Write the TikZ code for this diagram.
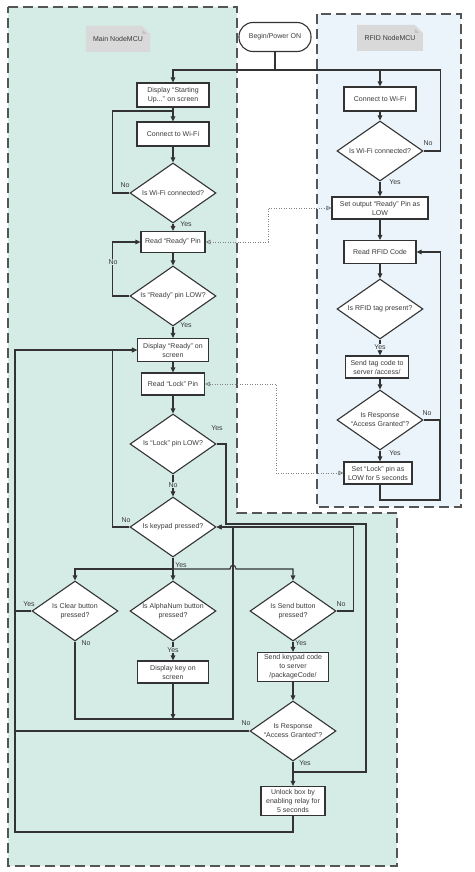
\documentclass[tikz,border=0pt]{standalone}
\usepackage{fontspec}
\setmainfont{Liberation Sans}
\usetikzlibrary{arrows.meta,shapes.geometric,shapes.misc}
\definecolor{mainbg}{HTML}{D4EBE6}
\definecolor{rfidbg}{HTML}{EBF4FA}
\definecolor{edgec}{HTML}{333333}
\definecolor{txtc}{HTML}{3A3A3A}
\definecolor{notec}{HTML}{D9D9D9}
\definecolor{foldc}{HTML}{C2C2C2}
\definecolor{dashc}{HTML}{555555}
\newcommand{\flowfont}{\fontsize{7}{9}\selectfont}
\tikzset{flowbox/.style={draw=edgec, fill=white, line width=1.1pt, align=center,
        inner sep=1pt, font=\flowfont, text=txtc},
    decision/.style={diamond, aspect=1.43, draw=edgec, fill=white, line width=1.1pt,
        align=center, inner sep=0pt, minimum width=86pt, minimum height=60pt,
        font=\flowfont, text=txtc},
    startbox/.style={draw=edgec, fill=white, line width=1.1pt, rounded corners=14pt,
        minimum width=72pt, minimum height=29pt, font=\flowfont, text=txtc},
    notebox/.style={chamfered rectangle, chamfered rectangle corners=north east,
        chamfered rectangle xsep=4pt, chamfered rectangle ysep=4pt, fill=notec,
        minimum width=64pt, minimum height=26pt, font=\flowfont, text=txtc},
    lab/.style={font=\flowfont, text=txtc, inner sep=1pt},
    flow/.style={draw=edgec, line width=1.1pt, -{Triangle[length=5pt,width=4.5pt]}},
    link/.style={draw=edgec, line width=1.1pt},
    signal/.style={draw=gray, line width=0.8pt, dash pattern=on 1pt off 1.5pt,
        {Triangle[open,length=5pt,width=4.5pt]}-{Triangle[open,length=5pt,width=4.5pt]}},
    region/.style={draw=dashc, line width=1.2pt, dash pattern=on 10pt off 5pt},
    }

\begin{document}
\begin{tikzpicture}[x=1pt,y=-1pt]
	\useasboundingbox (0,0) rectangle (474,872);
	% regions
	\fill[mainbg] (8,7) -- (237,7) -- (237,513) -- (397,513) -- (397,866) -- (8,866) -- cycle;
	\draw[region] (8,7) -- (237,7) -- (237,513) -- (397,513) -- (397,866) -- (8,866) -- cycle;
	\fill[rfidbg] (317,14) rectangle (461,507);
	\draw[region] (317,14) rectangle (461,507);
	\node[notebox] (mainnote) at (118,39) {Main NodeMCU};
	\node[notebox] (rfidnote) at (390,38) {RFID NodeMCU};
	\fill[foldc] ([xshift=-4pt]mainnote.north east) -- ([yshift=-4pt]mainnote.north east) -- ([xshift=-4pt,yshift=-4pt]mainnote.north east) -- cycle;
	\fill[foldc] ([xshift=-4pt]rfidnote.north east) -- ([yshift=-4pt]rfidnote.north east) -- ([xshift=-4pt,yshift=-4pt]rfidnote.north east) -- cycle;

	\node[startbox] (begin) at (275,37) {Begin/Power ON};

	% main nodemcu
	\node[flowbox, minimum width=72pt, minimum height=24pt] (startup) at (173,95) {Display “Starting\\Up...” on screen};
	\node[flowbox, minimum width=72pt, minimum height=24pt] (mconnect) at (173,134) {Connect to Wi-Fi};
	\node[decision] (mwifi) at (173,193) {Is Wi-Fi connected?};
	\node[flowbox, minimum width=64pt, minimum height=21pt] (readready) at (173,242) {Read “Ready” Pin};
	\node[decision] (readydec) at (173,296) {Is “Ready” pin LOW?};
	\node[flowbox, minimum width=71pt, minimum height=23pt] (dispready) at (173,350) {Display “Ready” on\\screen};
	\node[flowbox, minimum width=63pt, minimum height=22pt] (readlock) at (173,384) {Read “Lock” Pin};
	\node[decision] (lockdec) at (173,444) {Is “Lock” pin LOW?};
	\node[decision] (keydec) at (173,527) {Is keypad pressed?};
	\node[decision] (cleardec) at (75,611) {Is Clear button\\pressed?};
	\node[decision] (alphadec) at (173,611) {Is AlphaNum button\\pressed?};
	\node[decision] (senddec) at (293,611) {Is Send button\\pressed?};
	\node[flowbox, minimum width=71pt, minimum height=22pt] (dispkey) at (173,672) {Display key on\\screen};
	\node[flowbox, minimum width=71pt, minimum height=29pt] (sendcode) at (293,667) {Send keypad code\\to server\\/packageCode/};
	\node[decision] (keyacc) at (293,731) {Is Response\\“Access Granted”?};
	\node[flowbox, minimum width=64pt, minimum height=29pt] (unlock) at (293,801) {Unlock box by\\enabling relay for\\5 seconds};

	% rfid nodemcu
	\node[flowbox, minimum width=72pt, minimum height=24pt] (rconnect) at (380,99) {Connect to Wi-Fi};
	\node[decision] (rwifi) at (380,151) {Is Wi-Fi connected?};
	\node[flowbox, minimum width=96pt, minimum height=22pt] (setready) at (380,208) {Set output “Ready” Pin as\\LOW};
	\node[flowbox, minimum width=72pt, minimum height=23pt] (readrfid) at (380,252) {Read RFID Code};
	\node[decision] (tagdec) at (380,309) {Is RFID tag present?};
	\node[flowbox, minimum width=63pt, minimum height=22pt] (sendtag) at (377,367) {Send tag code to\\server /access/};
	\node[decision] (raccdec) at (380,420) {Is Response\\“Access Granted”?};
	\node[flowbox, minimum width=68pt, minimum height=22pt] (setlock) at (378,473) {Set “Lock” pin as\\LOW for 5 seconds};

	\coordinate (split) at (275,70);
	\coordinate (mjoin) at (173,111);
	\coordinate (loopL) at (15,351);
	\coordinate (backR) at (233,719);
	\coordinate (ksplit) at (173,569);
	\coordinate (ujoin) at (293,772);
	\coordinate (rright) at (440,500);

	% start
	\draw[link] (begin) -- (split);
	\draw[flow] (split) -| (startup.north);
	\draw[flow] (split) -| (rconnect.north);
	\draw[link] (rwifi.east) -- ++(17,0) |- (split);

	% main flow
	\draw[flow] (startup) -- (mconnect);
	\draw[flow] (mconnect) -- (mwifi);
	\draw[link] (mwifi.west) -- ++(-17,0) |- (mjoin);
	\draw[flow] (mwifi) -- (readready);
	\draw[flow] (readready) -- (readydec);
	\draw[flow] (readydec.west) -- ++(-17,0) |- (readready.west);
	\draw[flow] (readydec) -- (dispready);
	\draw[flow] (dispready) -- (readlock);
	\draw[flow] (readlock) -- (lockdec);
	\draw[flow] (lockdec) -- (keydec);
	\draw[link] (lockdec.east) -| (226,524) -| (366,772) -- (ujoin);
	\draw[flow] (keydec.west) -- ++(-17,0) |- (dispready.west);
	\draw[flow] (keydec) -- (alphadec);
	\draw[flow] (ksplit) -| (cleardec.north);
	\draw[flow] (ksplit) -- (230,569) .. controls (230,564) and (236,564) .. (236,569) -| (senddec.north);
	\draw[link] (cleardec.west) -- ++(-17,0);
	\draw[flow] (cleardec.south) |- (backR) |- (keydec.east);
	\draw[flow] (alphadec) -- (dispkey);
	\draw[flow] (dispkey) -- (dispkey.south |- backR);
	\draw[flow] (senddec) -- (sendcode);
	\draw[flow] (senddec.east) -- ++(17,0) |- (keydec.east);
	\draw[flow] (sendcode) -- (keyacc);
	\draw[link] (keyacc.west) -- (keyacc.west -| loopL);
	\draw[flow] (keyacc) -- (unlock);
	\draw[flow] (unlock.south) |- (15,832) |- (dispready.west);

	% rfid flow
	\draw[flow] (rconnect) -- (rwifi);
	\draw[flow] (rwifi) -- (setready);
	\draw[flow] (setready) -- (readrfid);
	\draw[flow] (readrfid) -- (tagdec);
	\draw[flow] (tagdec) -- (tagdec |- sendtag.north);
	\draw[flow] (tagdec |- sendtag.south) -- (raccdec);
	\draw[flow] (raccdec) -- (setlock.north -| raccdec);
	\draw[flow] (raccdec.east) -- ++(17,0) |- (readrfid.east);
	\draw[link] (setlock.south -| raccdec) |- (rright) -- (rright |- raccdec.east);

	% signals between boards
	\draw[signal] (readready.east) -- (268,242) |- (setready.west);
	\draw[signal] (readlock.east) -- (276,384) |- (setlock.west);

	% yes / no
	\node[lab] (mwifiNo) at (125,185) {No};
	\node[lab] (mwifiYes) at (186,224) {Yes};
	\node[lab, fill=mainbg] (readyNo) at (113,262) {No};
	\node[lab] (readyYes) at (186,325) {Yes};
	\node[lab] (lockYes) at (217,428) {Yes};
	\node[lab, fill=mainbg] (lockNo) at (173,485) {No};
	\node[lab] (keyNo) at (126,520) {No};
	\node[lab] (keyYes) at (181,565) {Yes};
	\node[lab] (clearYes) at (29,604) {Yes};
	\node[lab] (clearNo) at (86,643) {No};
	\node[lab, fill=mainbg] (alphaYes) at (173,650) {Yes};
	\node[lab] (sendNo) at (341,604) {No};
	\node[lab] (sendYes) at (301,643) {Yes};
	\node[lab] (kaccNo) at (246,723) {No};
	\node[lab] (kaccYes) at (305,763) {Yes};
	\node[lab] (rwifiNo) at (428,143) {No};
	\node[lab] (rwifiYes) at (395,182) {Yes};
	\node[lab, fill=rfidbg] (tagYes) at (380,347) {Yes};
	\node[lab] (raccNo) at (427,413) {No};
	\node[lab] (raccYes) at (395,453) {Yes};
\end{tikzpicture}
\end{document}
